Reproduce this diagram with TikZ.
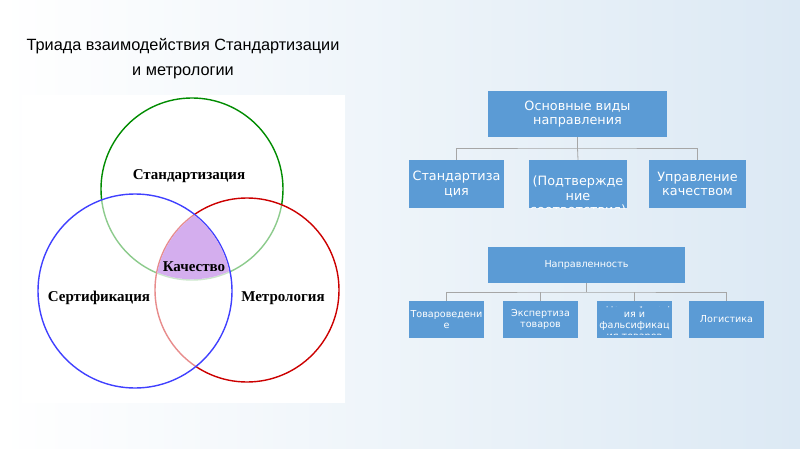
\documentclass[tikz,border=0pt]{standalone}
\usepackage{fontspec}
\setmainfont{Liberation Serif}
\setsansfont{DejaVu Sans}
\newfontfamily\titlefont{Liberation Sans}
\begin{document}
\begin{tikzpicture}[x=1pt,y=-1pt,
  box/.style={draw=none,fill=boxblue,text=white,font=\sffamily\fontsize{12.8}{14.5}\selectfont,align=center,inner sep=0pt},
  sbox/.style={box,font=\sffamily\fontsize{9.6}{11}\selectfont},
  conn/.style={draw=gray!70,line width=0.8pt},
  lbl/.style={font=\bfseries\fontsize{15}{17}\selectfont},
  veil/.style={fill=white,fill opacity=0.55}]
\definecolor{boxblue}{HTML}{5B9BD5}
\definecolor{bgblue}{HTML}{DCE9F4}
\definecolor{qual}{HTML}{D4AEEE}
\useasboundingbox (0,0) rectangle (800,449);
\shade[left color=white,right color=bgblue] (0,0) rectangle (800,449);
% title
\node[font=\titlefont\fontsize{16.3}{25}\selectfont,align=center] (title) at (183,59) {Триада взаимодействия Стандартизации\\и метрологии};
% left panel
\fill[white] (22,95) rectangle (345,403);
\draw[green!55!black,line width=1.4pt] (192,189) circle (91);
\draw[red!80!black,line width=1.4pt,veil] (247,290) circle (92);
\draw[blue!75,line width=1.4pt,veil] (135,291) circle (97);
\begin{scope}
\clip (192,189) circle (90.3);
\clip (135,291) circle (96.3);
\fill[qual] (247,290) circle (91.3);
\end{scope}
\node[lbl] (st) at (189,176) {Стандартизация};
\node[lbl] (ka) at (194,267) {Качество};
\node[lbl] (se) at (99,298) {Сертификация};
\node[lbl] (me) at (283,298) {Метрология};
% top tree
\node[box,minimum width=179,minimum height=46] (a) at (577.5,114) {Основные виды\\направления};
\node[box,minimum width=95,minimum height=48] (a1) at (456.5,184) {Стандартиза\\ция};
\node[box,minimum width=98,minimum height=48] (a2) at (578,184) {};
\node[box,minimum width=97,minimum height=48] (a3) at (697.5,184) {Управление\\качеством};
\begin{scope}
\clip (a2.south west) rectangle ([yshift=-14]a2.north east);
\node[box,fill=none,anchor=center] at ([yshift=2]a2.center) {Сертификаци\\я\\(Подтвержде\\ние\\соответствия)};
\end{scope}
\coordinate (ah) at (577.5,148);
\draw[conn] (a.south) -- (ah);
\draw[conn] (a1.north) |- (ah) -| (a3.north);
\draw[conn] (ah) -- (a2.north);
% bottom tree
\node[sbox,minimum width=197,minimum height=36] (b) at (586.5,265) {Направленность};
\node[sbox,minimum width=75,minimum height=37] (b1) at (446.5,319.5) {Товароведени\\е};
\node[sbox,minimum width=75,minimum height=37] (b2) at (540.5,319.5) {Экспертиза\\товаров};
\node[sbox,minimum width=75,minimum height=37] (b3) at (634.5,319.5) {};
\node[sbox,minimum width=75,minimum height=37] (b4) at (726.5,319.5) {Логистика};
\begin{scope}
\clip ([yshift=4]b3.south west) rectangle ([yshift=-6]b3.north east);
\node[sbox,fill=none] at ([yshift=-1]b3.center) {Идентификац\\ия и\\фальсификац\\ия товаров};
\end{scope}
\coordinate (bh) at (586.5,292);
\draw[conn] (b.south) -- (bh);
\draw[conn] (b1.north) |- (bh) -| (b4.north);
\draw[conn] (b2.north) -- (b2.north |- bh);
\draw[conn] (b3.north) -- (b3.north |- bh);
\end{tikzpicture}
\end{document}
